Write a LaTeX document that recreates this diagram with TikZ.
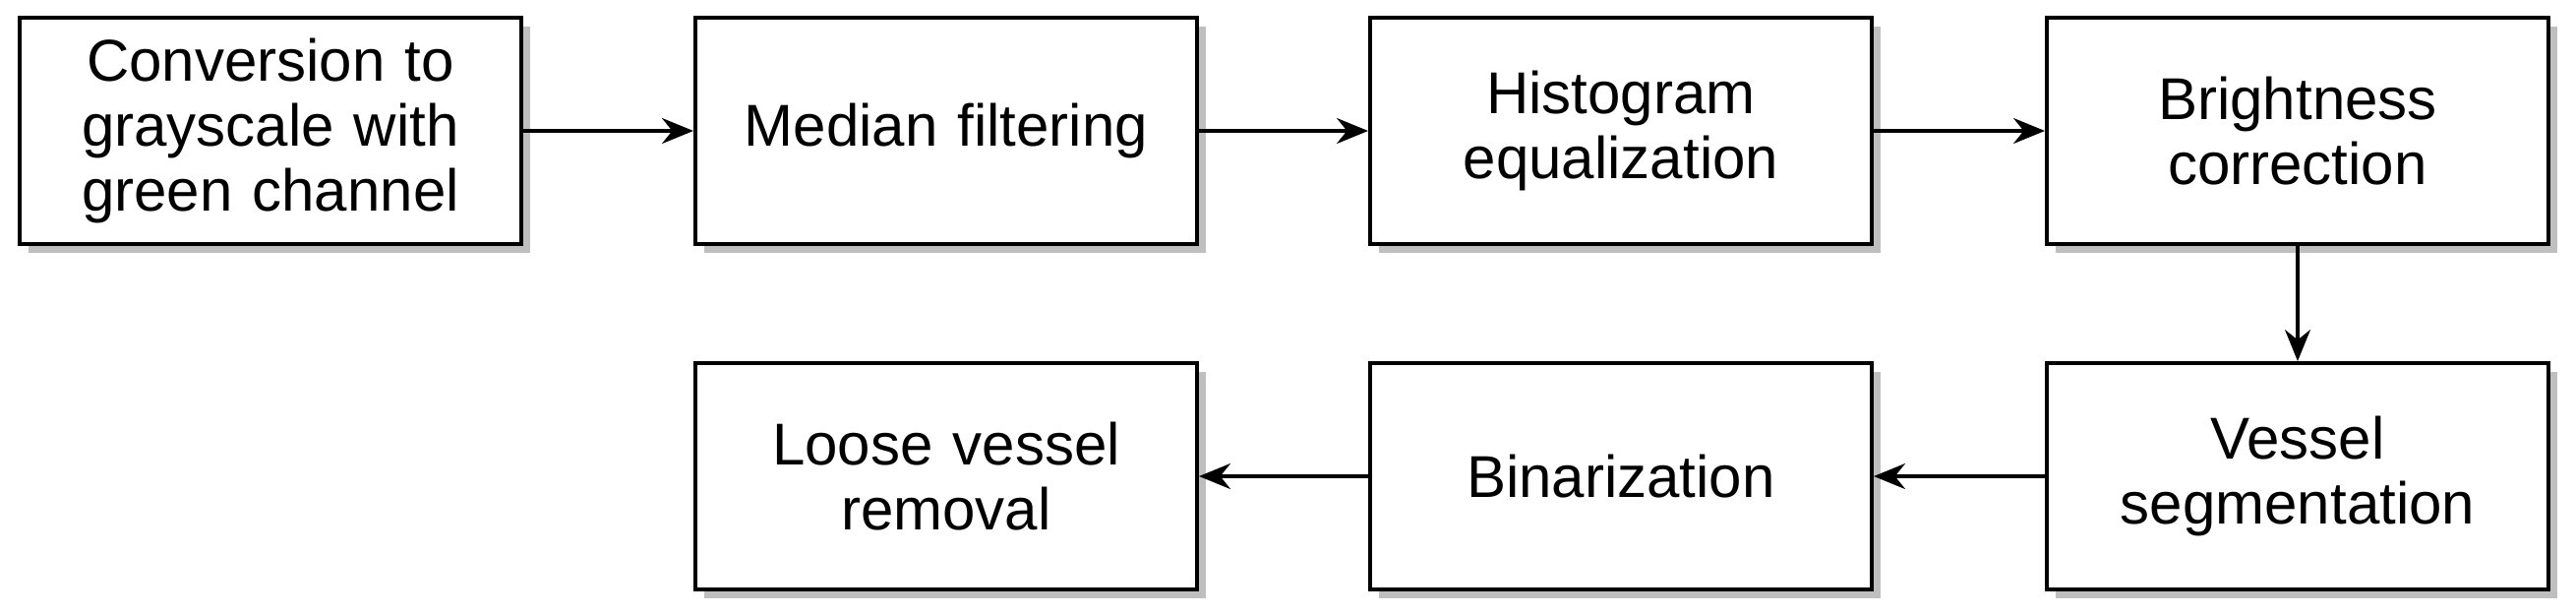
\documentclass[tikz,border=0pt]{standalone}
\usepackage{fontspec}
\setmainfont{Liberation Sans}
\usetikzlibrary{shadows,arrows.meta}
\begin{document}
\begin{tikzpicture}[x=1pt,y=-1pt,
  box/.style={draw=black,line width=4pt,fill=white,minimum width=510pt,minimum height=230pt,
    align=center,text width=500pt,font=\fontsize{60}{66}\selectfont,
    drop shadow={shadow xshift=9pt,shadow yshift=-9pt,fill=black!25,opacity=1}},
  conn/.style={line width=3.5pt,-{Stealth[length=32pt,width=26pt]}}]
\useasboundingbox (0,0) rectangle (2619,625);
\node[box] (a) at (275,133) {Conversion to\\grayscale with\\green channel};
\node[box] (b) at (962,133) {Median filtering};
\node[box] (c) at (1648,133) {Histogram\\equalization};
\node[box] (d) at (2336,133) {Brightness\\correction};
\node[box] (e) at (2336,484) {Vessel\\segmentation};
\node[box] (f) at (1648,484) {Binarization};
\node[box] (g) at (962,484) {Loose vessel\\removal};
\draw[conn] (a) -- (b);
\draw[conn] (b) -- (c);
\draw[conn] (c) -- (d);
\draw[conn] (d) -- (e);
\draw[conn] (e) -- (f);
\draw[conn] (f) -- (g);
\end{tikzpicture}
\end{document}
